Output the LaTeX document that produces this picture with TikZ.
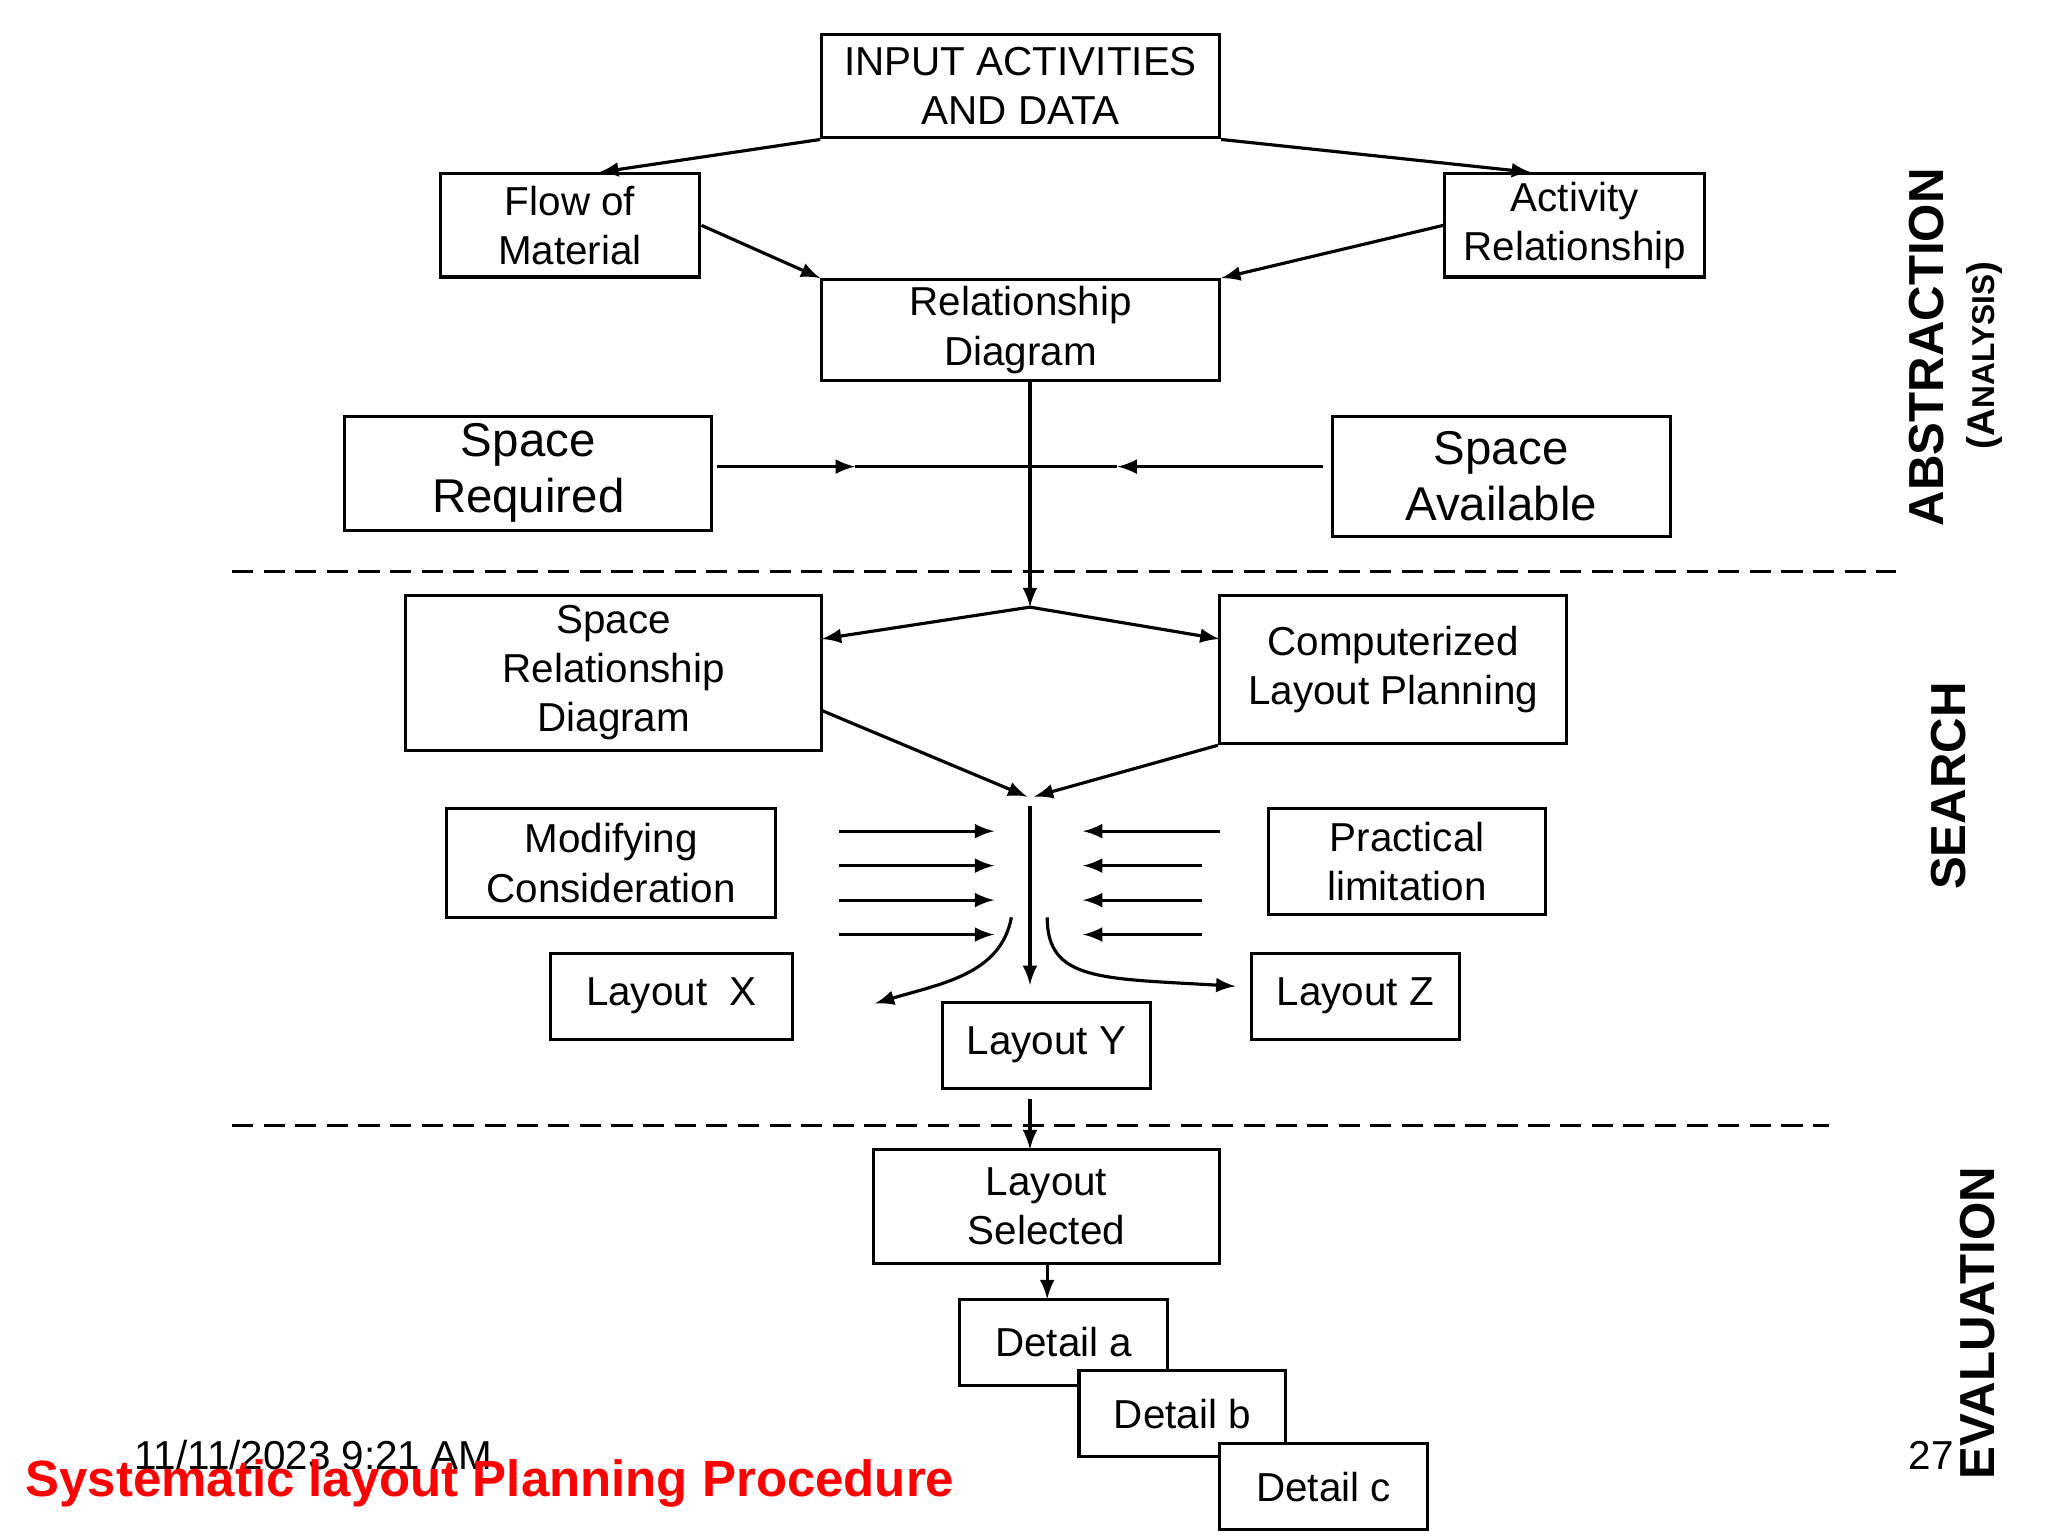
\documentclass[tikz,border=0pt]{standalone}
\usepackage{fontspec}
\setmainfont{Liberation Sans}
\begin{document}
\begin{tikzpicture}[x=0.013256cm,y=-0.013256cm,
 box/.style={draw,line width=0.9pt,inner sep=0pt,align=center,font=\fontsize{11.5}{14}\selectfont},
 big/.style={font=\fontsize{13.5}{16}\selectfont},
 ar/.style={-latex,line width=0.9pt},
 ln/.style={line width=0.9pt},
 side/.style={rotate=90,font=\bfseries\fontsize{14}{17}\selectfont}]
\useasboundingbox (0,0) rectangle (1545,1159);
\newcommand\mybox[7][]{\node[box,#1,minimum width={(#4-#2)*0.013256cm},minimum height={(#5-#3)*0.013256cm}] (#6) at ({(#2+#4)/2},{(#3+#5)/2}) {#7};}
\mybox{620}{26}{920}{104}{in}{INPUT ACTIVITIES\\ AND DATA}
\mybox{332}{131}{528}{209}{flow}{Flow of\\ Material}
\mybox{1090}{131}{1286}{209}{act}{Activity\\ Relationship}
\mybox{620}{211}{920}{287}{rd}{Relationship\\ Diagram}
\mybox[big]{260}{314}{537}{400}{sr}{Space\\ Required}
\mybox[big]{1005}{314}{1260}{405}{sa}{Space\\ Available}
\mybox{306}{449}{620}{566}{srd}{Space\\ Relationship\\ Diagram}
\mybox{920}{449}{1182}{561}{clp}{Computerized\\ Layout Planning}
\mybox{337}{610}{585}{692}{mod}{Modifying\\ Consideration}
\mybox{957}{610}{1166}{690}{pr}{Practical\\ limitation}
\mybox{415}{719}{598}{784}{lx}{Layout\ \ X}
\mybox{711}{756}{868}{821}{ly}{Layout Y}
\mybox{944}{719}{1101}{784}{lz}{Layout Z}
\mybox{659}{867}{920}{953}{sel}{Layout\\ Selected}
\mybox[fill=white]{724}{980}{881}{1045}{da}{Detail a}
\mybox[fill=white]{814}{1034}{970}{1099}{db}{Detail b}
\mybox[fill=white]{920}{1089}{1077}{1154}{dc}{Detail c}
\draw[ar] (in.south west) -- (452,130);
\draw[ar] (in.south east) -- (1155,130);
\draw[ar] (flow.east) -- (rd.north west);
\draw[ar] (act.west) -- (rd.north east);
\coordinate (sp) at (777,458);
\draw[ar] (777,287) -- (sp);
\draw[ar] (541,352) -- (645,352);
\draw[ln] (645,352) -- (843,352);
\draw[ar] (998,352) -- (843,352);
\draw[line width=0.7pt,dash pattern=on 6pt off 3pt] (175,431) -- (1430,431);
\draw[ar] (sp) -- (620,482);
\draw[ar] (sp) -- (920,482);
\draw[ar] (620,536) -- (775,601);
\draw[ar] (clp.south west) -- (780,601);
\draw[ar] (777,608) -- (777,743);
\foreach \y in {627,653,679,705} \draw[ar] (633,\y) -- (750,\y);
\draw[ar] (920,627) -- (817,627);
\foreach \y in {653,679,705} \draw[ar] (907,\y) -- (817,\y);
\draw[ar] (763,692) .. controls (755,735) and (710,742) .. (660,757);
\draw[ar] (790,692) .. controls (790,740) and (830,738) .. (932,744);
\draw[line width=0.7pt,dash pattern=on 6pt off 3pt] (175,849) -- (1380,849);
\draw[ar] (777,829) -- (777,867);
\draw[ar] (790,953) -- (790,980);
\node[side] at (1453,262) {ABSTRACTION};
\node[rotate=90,font=\bfseries\fontsize{11}{13}\selectfont] at (1497,268) {(A\fontsize{9}{11}\selectfont NALYSIS\fontsize{11}{13}\selectfont)};
\node[side] at (1470,593) {SEARCH};
\node[side] at (1492,998) {EVALUATION};
\node[font=\fontsize{11.5}{14}\selectfont,anchor=west] (dt) at (92,1098) {11/11/2023 9:21 AM};
\node[font=\bfseries\fontsize{14.5}{17}\selectfont,text=red,anchor=west] (tt) at (10,1119) {Systematic layout Planning Procedure};
\node[font=\fontsize{11.5}{14}\selectfont] (pg) at (1457,1098) {27};
\end{tikzpicture}
\end{document}
